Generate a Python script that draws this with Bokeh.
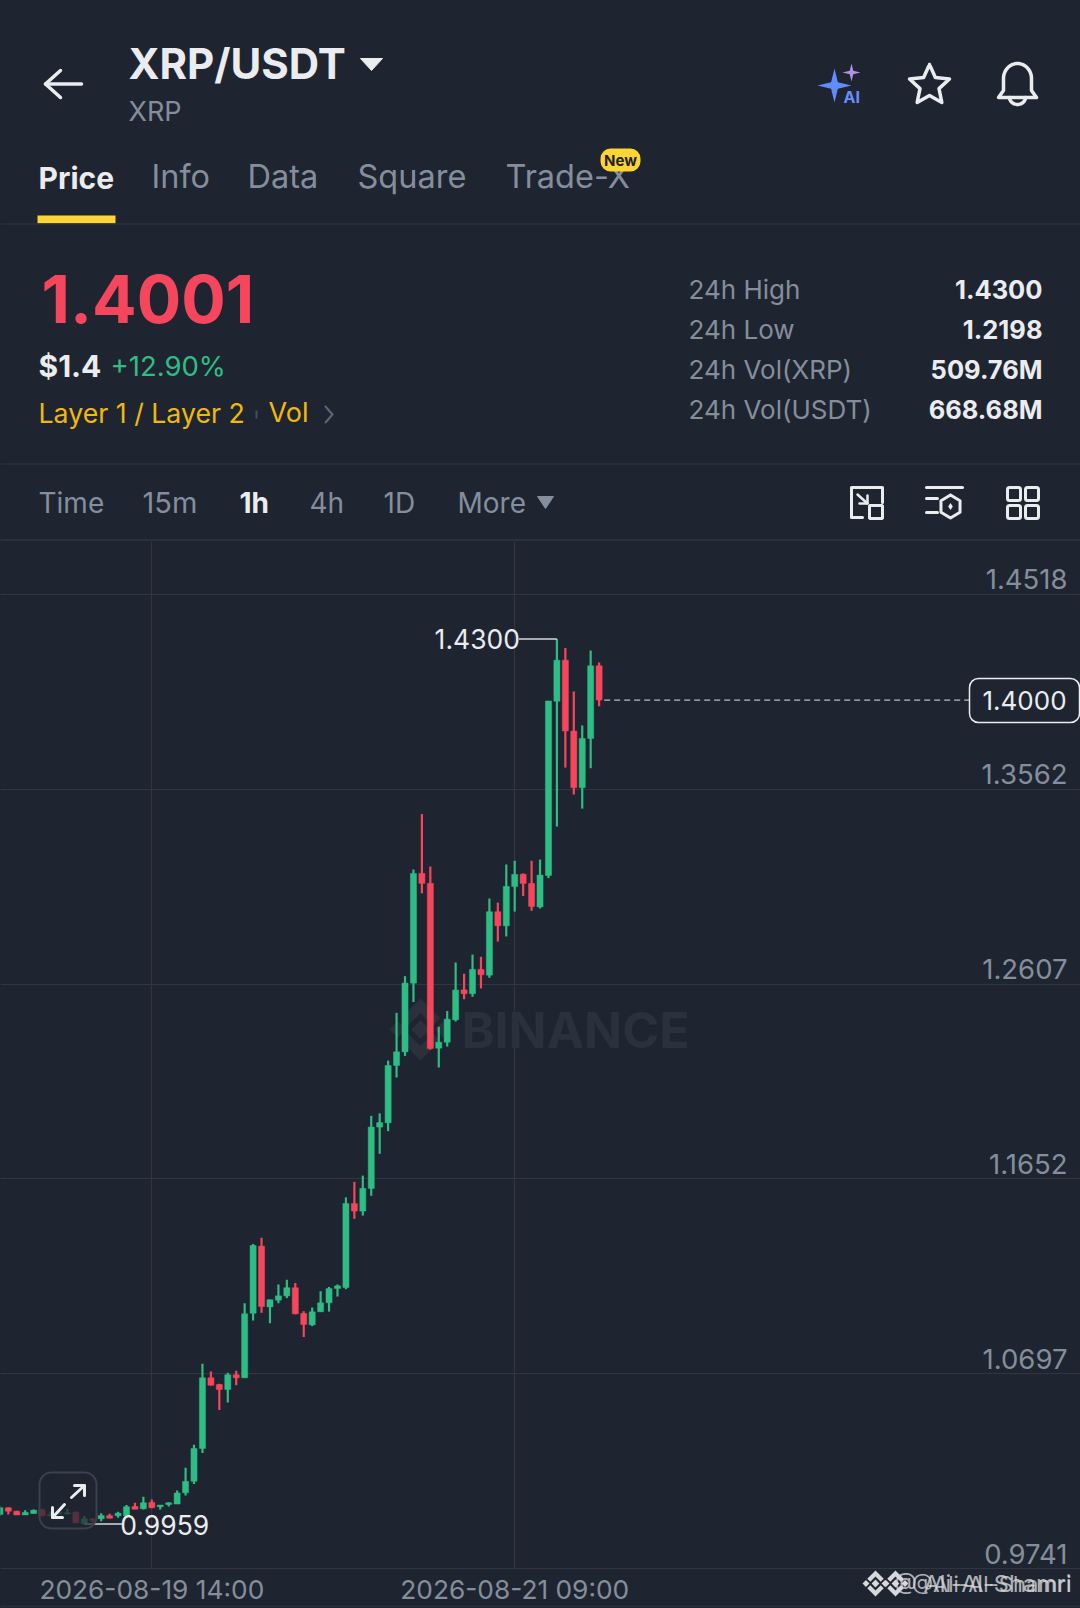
import numpy as np
from bokeh.core.properties import value
from bokeh.embed import file_html
from bokeh.layouts import column
from bokeh.models import FixedTicker, Range1d
from bokeh.plotting import figure
from bokeh.resources import INLINE

# ---- data -----------------------------------------------------------------
hours = list(range(-18, 54))   # hours relative to 2026-08-19 14:00
opens = [1.0006,1.0039,1.0022,1.0004,1.0011,1.0029,1.0000,1.0009,1.0008,1.0017,0.9960,0.9985,0.9985,1.0000,1.0000,1.0000,1.0045,1.0034,
         1.0065,1.0044,1.0055,1.0057,1.0112,1.0169,1.0330,1.0676,1.0643,1.0619,1.0691,1.0676,1.0993,1.1322,1.1024,1.1057,1.1078,1.1118,
         1.0992,1.0936,1.1000,1.1044,1.1114,1.1119,1.1531,1.1494,1.1605,1.1906,1.1927,1.2208,1.2275,1.2612,1.3150,1.3101,1.2293,1.2322,
         1.2432,1.2579,1.2560,1.2679,1.2651,1.2962,1.2893,1.3086,1.3146,1.3101,1.2986,1.3140,1.3995,1.4196,1.3848,1.3571,1.3812,1.4168]
highs = [1.0045,1.0042,1.0024,1.0027,1.0030,1.0034,1.0021,1.0021,1.0034,1.0021,0.9998,0.9988,1.0012,1.0009,1.0019,1.0053,1.0063,1.0093,
         1.0080,1.0053,1.0066,1.0124,1.0235,1.0348,1.0745,1.0707,1.0647,1.0701,1.0711,1.1042,1.1332,1.1363,1.1060,1.1134,1.1157,1.1141,
         1.1003,1.1021,1.1101,1.1122,1.1134,1.1561,1.1637,1.1668,1.1961,1.1973,1.2232,1.2466,1.2646,1.3169,1.3441,1.3184,1.2398,1.2475,
         1.2713,1.2658,1.2752,1.2741,1.3027,1.3007,1.3194,1.3212,1.3150,1.3212,1.3218,1.3996,1.4300,1.4255,1.4042,1.3876,1.4243,1.4185]
lows = [1.0001,1.0006,1.0003,1.0004,1.0009,0.9996,0.9998,1.0006,1.0008,0.9964,0.9959,0.9968,0.9973,0.9988,0.9990,1.0000,1.0032,1.0030,
        1.0037,1.0030,1.0045,1.0057,1.0099,1.0155,1.0307,1.0639,1.0518,1.0555,1.0640,1.0676,1.0957,1.0995,1.0944,1.1042,1.1067,1.0988,
        1.0876,1.0930,1.1000,1.1001,1.1075,1.1111,1.1456,1.1472,1.1569,1.1775,1.1886,1.2149,1.2255,1.2519,1.3052,1.2286,1.2198,1.2301,
        1.2424,1.2533,1.2545,1.2586,1.2638,1.2816,1.2841,1.2963,1.3039,1.2967,1.2978,1.3127,1.3380,1.3669,1.3537,1.3468,1.3666,1.3970]
closes = [1.0039,1.0022,1.0004,1.0016,1.0027,1.0001,1.0006,1.0016,1.0014,0.9965,0.9985,0.9977,1.0001,0.9988,1.0012,1.0044,1.0032,1.0063,
          1.0039,1.0052,1.0063,1.0111,1.0168,1.0330,1.0676,1.0640,1.0619,1.0691,1.0676,1.0990,1.1325,1.1026,1.1059,1.1078,1.1118,1.0990,
          1.0938,1.1000,1.1044,1.1114,1.1127,1.1531,1.1494,1.1605,1.1906,1.1928,1.2208,1.2275,1.2612,1.3150,1.3101,1.2291,1.2322,1.2435,
          1.2578,1.2560,1.2679,1.2653,1.2962,1.2893,1.3086,1.3145,1.3101,1.2988,1.3142,1.3996,1.4196,1.3849,1.3571,1.3812,1.4168,1.4000]
price_ticks = [1.4518, 1.3562, 1.2607, 1.1652, 1.0697, 0.9741]
price_labels = ["1.4518", "1.3562", "1.2607", "1.1652", "1.0697", "0.9741"]
time_ticks = [0, 43]
time_labels = ["2026-08-19 14:00", "2026-08-21 09:00"]
last_price = 1.4000
high_price = 1.4300
high_hour = 48
low_price = 0.9959
low_hour = -8
stat_names = ["24h High", "24h Low", "24h Vol(XRP)", "24h Vol(USDT)"]
stat_values = ["1.4300", "1.2198", "509.76M", "668.68M"]
tabs = ["Price", "Info", "Data", "Square", "Trade-X"]
periods = ["Time", "15m", "1h", "4h", "1D", "More"]

# ---- style ----------------------------------------------------------------
BG = "#1f2530"
GRID = "#30353f"
RULE = "#2b313c"
GREEN = "#2ebd85"
RED = "#f6465d"
GRAY = "#848e9c"
WHITE = "#eaecef"
YELLOW = "#f0b90b"
FONT = value("Inter")


def base(height, x_range, y_range):
    f = figure(width=1080, height=height, x_range=x_range, y_range=y_range,
               output_backend="svg", toolbar_location=None, min_border=0,
               background_fill_color=BG, border_fill_color=BG, outline_line_color=None)
    f.xaxis.visible = False
    f.yaxis.visible = False
    f.xgrid.visible = False
    f.ygrid.visible = False
    return f


def txt(f, x, y, s, size, color, bold=False, align="left", **kw):
    """y is the baseline of the capitals; the text is centred on their middle."""
    f.text(x=[x], y=[y - 0.364 * size], text=[s], text_font=FONT, text_font_size=f"{size}px", text_color=color,
           text_font_style="bold" if bold else "normal", text_align=align, text_baseline="middle", **kw)


def ln(f, xs, ys, color=WHITE, w=3.0, **kw):
    f.line(xs, ys, line_color=color, line_width=w, line_cap="round", line_join="round", **kw)


def star4(cx, cy, r, waist=0.28):
    xs, ys = [], []
    for k in range(8):
        a = k * np.pi / 4
        q = r if k % 2 == 0 else r * waist
        xs.append(cx + q * np.cos(a))
        ys.append(cy + q * np.sin(a))
    return xs, ys


def binance_logo(f, cx, cy, r, color, **kw):
    """Centre and side diamonds plus the top and bottom chevrons."""
    s = r / 30.0
    for dx, dy, q in [(0, 0, 9), (-22, 0, 8), (22, 0, 8)]:
        f.patch([cx + (dx - q) * s, cx + dx * s, cx + (dx + q) * s, cx + dx * s],
                [cy + dy * s, cy + (dy - q) * s, cy + dy * s, cy + (dy + q) * s],
                fill_color=color, line_color=None, **kw)
    for sg in (-1, 1):
        f.patch([cx - 19 * s, cx, cx + 19 * s, cx + 12 * s, cx, cx - 12 * s],
                [cy + sg * 11 * s, cy + sg * 30 * s, cy + sg * 11 * s, cy + sg * 4 * s, cy + sg * 16 * s, cy + sg * 4 * s],
                fill_color=color, line_color=None, **kw)


# ---- header ---------------------------------------------------------------
head = base(541, Range1d(0, 1080), Range1d(541, 0))
ln(head, [81, 45], [83.5, 83.5], w=3.5)
ln(head, [60, 45, 60], [70, 83.5, 97], w=3.5)
txt(head, 128, 78, "XRP/USDT", 42, WHITE, bold=True)
head.patch([360, 382, 371], [58, 58, 70], fill_color=WHITE, line_color=WHITE, line_width=1, line_join="round")
txt(head, 128, 120.5, "XRP", 27, GRAY)

sx, sy = star4(834, 85, 17)
head.patch(sx, sy, fill_color="#5f8dff", line_color=None)
sx, sy = star4(851, 72, 9)
head.patch(sx, sy, fill_color="#b48ee8", line_color=None)
txt(head, 843, 102, "AI", 16, "#6a8cff", bold=True)

ang = np.arange(11) * np.pi / 5 - np.pi / 2
rad = np.where(np.arange(11) % 2 == 0, 21.0, 10.0)
ln(head, 929 + rad * np.cos(ang), 85 + rad * np.sin(ang), w=3.5)

dome = np.linspace(np.pi, 2 * np.pi, 24)
bell_x = [1003] + list(1017 + 14 * np.cos(dome)) + [1031, 1036, 998, 1003]
bell_y = [90] + list(78 + 15 * np.sin(dome)) + [90, 97, 97, 90]
ln(head, bell_x, bell_y, w=3.5)
clap = np.linspace(0, np.pi, 12)
ln(head, 1017 + 8 * np.cos(clap), 97 + 7 * np.sin(clap), w=3.5)

tab_x = [38, 151, 247, 357, 505]
for k, (lab, x) in enumerate(zip(tabs, tab_x)):
    txt(head, x, 188, lab, 30 if k == 0 else 32.5, WHITE if k == 0 else GRAY, bold=(k == 0))
head.quad(left=[37], right=[115], top=[215], bottom=[223], fill_color="#fcd535", line_color=None)
head.quad(left=[600], right=[640], top=[148], bottom=[171], fill_color="#fcd535", line_color=None, border_radius=10)
txt(head, 620, 165, "New", 15, "#1e2329", bold=True, align="center")
ln(head, [0, 1080], [223.5, 223.5], color=RULE, w=1.5)

txt(head, 41, 323, "1.4001", 66, RED, bold=True)
txt(head, 38, 376, "$1.4", 30, WHITE, bold=True)
txt(head, 110, 376, "+12.90%", 27.5, GREEN)
txt(head, 38, 422, "Layer 1 / Layer 2", 26.7, YELLOW)
head.quad(left=[255], right=[257], top=[410], bottom=[418], fill_color="#474d57", line_color=None)
txt(head, 268, 422, "Vol", 27, YELLOW)
ln(head, [325, 332, 325], [406, 414, 422], color="#5e6673", w=2)

for k, (name, val) in enumerate(zip(stat_names, stat_values)):
    by = 298.5 + 40 * k
    txt(head, 688, by, name, 26, GRAY)
    txt(head, 1042, by, val, 25.5, WHITE, bold=True, align="right")
ln(head, [0, 1080], [463.5, 463.5], color=RULE, w=1.5)

period_x = [38, 142, 239, 309, 383, 457]
for k, (lab, x) in enumerate(zip(periods, period_x)):
    txt(head, x, 513, lab, 29 if k == 1 else 28, WHITE if k == 2 else GRAY, bold=(k == 2))
head.patch([537, 553, 545], [496, 496, 508], fill_color=GRAY, line_color=GRAY, line_width=1, line_join="round")

ln(head, [882, 882, 851, 851, 862], [502, 487, 487, 517, 517])
head.quad(left=[869], right=[882], top=[505], bottom=[518], fill_color=None, line_color=WHITE, line_width=3)
ln(head, [857, 867], [494, 503], w=2.5)
ln(head, [867, 867, 859], [495, 503, 503], w=2.5)

ln(head, [926, 962], [487, 487])
ln(head, [926, 937], [498, 498])
ln(head, [926, 937], [512, 512])
ha = np.arange(7) * np.pi / 3 - np.pi / 2
ln(head, 950 + 11 * np.cos(ha), 506 + 11.5 * np.sin(ha))
head.scatter([950], [506], size=7, marker="diamond", fill_color=WHITE, line_color=None)

head.quad(left=[1007, 1025, 1007, 1025], right=[1020, 1038, 1020, 1038],
          top=[487, 487, 505, 505], bottom=[500, 500, 518, 518],
          fill_color=None, line_color=WHITE, line_width=3, border_radius=2)
ln(head, [0, 1080], [540, 540], color=RULE, w=3)

# ---- candles --------------------------------------------------------------
shared_x = Range1d(-17.93, 110.04)
chart = base(1028, shared_x, Range1d(0.97361, 1.47779))
chart.extra_x_ranges = {"px": Range1d(0, 1080)}
chart.extra_y_ranges = {"px": Range1d(1569, 541)}
PX = dict(x_range_name="px", y_range_name="px")

chart.ygrid.visible = True
chart.ygrid.ticker = FixedTicker(ticks=price_ticks)
chart.ygrid.grid_line_color = GRID
chart.ygrid.grid_line_width = 1.2
chart.xgrid.visible = True
chart.xgrid.ticker = FixedTicker(ticks=time_ticks)
chart.xgrid.grid_line_color = GRID
chart.xgrid.grid_line_width = 1.2

binance_logo(chart, 420, 1029, 31, "#2b313c", **PX)
chart.text(x=[461], y=[1029], text=["BINANCE"], text_font=FONT, text_font_size="50px", text_font_style="bold",
           text_color="#2b313c", text_baseline="middle", **PX)

colors = [GREEN if c >= o else RED for o, c in zip(opens, closes)]
chart.segment(x0=hours, x1=hours, y0=lows, y1=highs, line_color=colors, line_width=2.2)
chart.vbar(x=hours, width=0.72, bottom=[min(o, c) for o, c in zip(opens, closes)],
           top=[max(o, c) for o, c in zip(opens, closes)], fill_color=colors, line_color=colors, line_width=0.5)

chart.text(x=[1067] * len(price_ticks), y=price_ticks, text=price_labels, text_font=FONT, text_font_size="27.5px",
           text_color=GRAY, text_align="right", text_baseline="middle", y_offset=-15,
           x_range_name="px")

# last price line and box
chart.segment(x0=[53.6], x1=[97.4], y0=[last_price], y1=[last_price], line_color="#b7bdc6", line_width=1.3, line_dash="6 4")
chart.quad(left=[969], right=[1079], top=[678], bottom=[722], fill_color=BG, line_color=WHITE, line_width=1.5,
           border_radius=9, **PX)
chart.text(x=[1024], y=[last_price], text=[f"{last_price:.4f}"], text_font=FONT, text_font_size="26px", text_color=WHITE,
           text_align="center", text_baseline="middle", x_range_name="px")

# high and low markers
chart.segment(x0=[high_hour - 4.5], x1=[high_hour], y0=[high_price], y1=[high_price], line_color="#d5d8dc", line_width=1.5)
chart.text(x=[high_hour - 4.5], y=[high_price], text=[f"{high_price:.4f}"], text_font=FONT, text_font_size="26.5px",
           text_color=WHITE, text_align="right", text_baseline="middle", x_offset=1, y_offset=0)
chart.segment(x0=[low_hour], x1=[low_hour + 4.5], y0=[low_price], y1=[low_price], line_color="#d5d8dc", line_width=1.5)
chart.text(x=[low_hour + 4.5], y=[low_price], text=[f"{low_price:.4f}"], text_font=FONT, text_font_size="26.5px",
           text_color=WHITE, text_align="left", text_baseline="middle", x_offset=-2, y_offset=1)

# expand button
chart.quad(left=[39], right=[96], top=[1472], bottom=[1528], fill_color=BG, fill_alpha=0.72,
           line_color="#3c424d", line_width=2, border_radius=12, **PX)
ln(chart, [71, 84], [1497, 1485], **PX)
ln(chart, [74, 84, 84], [1485, 1485, 1495], **PX)
ln(chart, [64, 52], [1504, 1517], **PX)
ln(chart, [52, 52, 62], [1507, 1517, 1517], **PX)

# ---- time axis strip ------------------------------------------------------
foot = base(39, shared_x, Range1d(1608, 1569))
foot.extra_x_ranges = {"px": Range1d(0, 1080)}
foot.text(x=time_ticks, y=[1588.5] * len(time_ticks), text=time_labels, text_font=FONT, text_font_size="26.3px",
          text_color=GRAY, text_align="center", text_baseline="middle")
ln(foot, [0, 1080], [1606, 1606], color=RULE, w=1.5, x_range_name="px")
for cx in (875, 895):
    binance_logo(foot, cx, 1583, 13, "#d6d8db", x_range_name="px")
foot.text(x=[1071], y=[1583], text=["@ Ali-Al-Shamri"], text_font=FONT, text_font_size="23.5px",
          text_color="#d6d8db", text_alpha=0.8, text_align="right", text_baseline="middle", x_range_name="px")
foot.text(x=[1071], y=[1583], text=["@Ali-Al-Shamri"], text_font=FONT, text_font_size="22px",
          text_color="#d6d8db", text_alpha=0.8, text_align="right", text_baseline="middle", x_range_name="px")

page = column(head, chart, foot, spacing=0)
html = file_html(page, INLINE)
html = html.replace("<head>", "<head><style>html,body{margin:0;padding:0;background:#1f2530;overflow:hidden}</style>", 1)
open("out.html", "w").write(html)
